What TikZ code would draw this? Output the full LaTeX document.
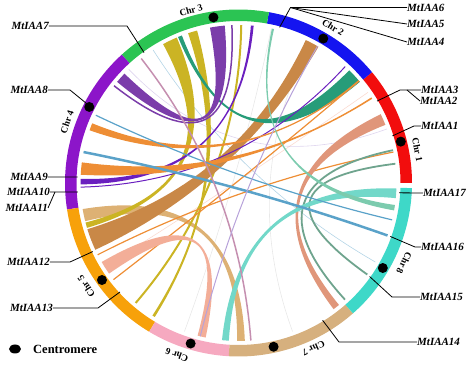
\documentclass[tikz,border=0pt]{standalone}
\usepackage{fontspec}
\setmainfont{Liberation Serif}
\usetikzlibrary{positioning}

\definecolor{chrA}{HTML}{F20D0D}
\definecolor{chrB}{HTML}{1414F0}
\definecolor{chrC}{HTML}{2BC453}
\definecolor{chrD}{HTML}{8C15C9}
\definecolor{chrE}{HTML}{F7A10A}
\definecolor{chrF}{HTML}{F6A9C0}
\definecolor{chrG}{HTML}{D6B07E}
\definecolor{chrH}{HTML}{3ED8C8}
\definecolor{lkPurple}{HTML}{7B3DAA}
\definecolor{lkViolet}{HTML}{6A1FBF}
\definecolor{lkYellow}{HTML}{CBB424}
\definecolor{lkTeal}{HTML}{279C79}
\definecolor{lkBrown}{HTML}{C98847}
\definecolor{lkOrange}{HTML}{EE8E35}
\definecolor{lkSalmon}{HTML}{E0967A}
\definecolor{lkBlue}{HTML}{5AA2C9}
\definecolor{lkTurq}{HTML}{72D8C9}
\definecolor{lkMint}{HTML}{7CCBAE}
\definecolor{lkTan}{HTML}{DDB174}
\definecolor{lkPink}{HTML}{F3AE98}
\definecolor{lkGreen}{HTML}{6FA48E}
\definecolor{lkMauve}{HTML}{C58FB0}
\definecolor{lkLav}{HTML}{B7A2DA}

% link ends sit at radius 158, bezier pull towards the centre
\newcommand\rl{158}
\newcommand\rc{52.7}
% ribbon: colour, first arc a1..a2, second arc b1..b2
\newcommand\ribbon[5]{\fill[#1] (#2:\rl) arc[start angle=#2,end angle=#3,radius=\rl]
  .. controls (#3:\rc) and (#4:\rc) .. (#4:\rl) arc[start angle=#4,end angle=#5,radius=\rl]
  .. controls (#5:\rc) and (#2:\rc) .. (#2:\rl) -- cycle;}
% thin link between two angles
\newcommand\link[3]{\draw[#1] (#2:\rl) .. controls (#2:\rc) and (#3:\rc) .. (#3:\rl);}

\begin{document}
\begin{tikzpicture}[x=1pt,y=1pt,
    gene/.style={font=\fontsize{11}{13}\selectfont\bfseries\itshape, inner sep=0pt},
    chrlab/.style={font=\fontsize{9.5}{11}\selectfont\bfseries, inner sep=0pt},
    lead/.style={black, line width=0.8pt},
    faint/.style={line width=0.6pt, opacity=0.45}]
  \useasboundingbox (-238.5,-191) rectangle (235.5,183);

  % faint links
  \link{faint, lkBlue}{122.7}{-30}
  \link{faint, lkLav}{134}{20}
  \link{faint, gray!40}{78}{250}
  \link{faint, gray!40}{63}{-70}
  \link{faint, lkPink}{212}{35}

  % links
  \ribbon{lkTan}{189.5}{194}{269.5}{272.3}
  \ribbon{lkYellow}{113}{118.5}{194.5}{196.5}
  \ribbon{lkYellow}{105.2}{108.6}{237}{238}
  \link{lkYellow, line width=2pt}{89}{229.4}
  \ribbon{lkBrown}{59.6}{64.8}{197}{205}
  \ribbon{lkTeal}{39.8}{45.5}{111}{112.5}
  \ribbon{lkPurple}{95}{100.4}{136.2}{140.2}
  \link{lkPurple, line width=1.5pt}{92.4}{142}
  \ribbon{lkViolet}{84.5}{85.5}{178.5}{180.5}
  \link{lkViolet, line width=1pt}{47.5}{181.5}
  \ribbon{lkOrange}{40}{40.6}{157.8}{160.5}
  \ribbon{lkOrange}{32.2}{32.8}{172.5}{177}
  \link{lkOrange, line width=1.2pt}{40.3}{217.7}
  \link{lkOrange, line width=1.2pt}{11.3}{207}
  \ribbon{lkSalmon}{-53}{-50.5}{21.6}{25.8}
  \link{lkGreen, line width=1.8pt}{12}{-47.6}
  \link{lkGreen, line width=1.8pt}{7}{-35.4}
  \ribbon{lkTurq}{264}{266.5}{354.5}{358}
  \ribbon{lkMint}{-10}{-8}{77}{77.8}
  \link{lkBlue, line width=1.2pt}{154.6}{-13.5}
  \link{lkBlue, line width=2.5pt}{168.7}{-19.4}
  \ribbon{lkPink}{210}{215}{255}{258}
  \link{lkMauve, line width=1.5pt}{-85.5}{128}
  \link{lkLav, line width=1pt}{-104}{60}

  % chromosome ring
  \foreach \a/\b/\c in {0/39.7/chrA, 39.7/79.9/chrB, 79.9/132.3/chrC, 132.3/188.8/chrD,
      188.8/239/chrE, 239/266.8/chrF, 266.8/311.3/chrG, 311.3/358.3/chrH}
    \fill[\c] (\a:162) arc[start angle=\a,end angle=\b,radius=162]
      -- (\b:173.5) arc[start angle=\b,end angle=\a,radius=173.5] -- cycle;

  % centromeres
  \foreach \a in {14.3, 59.6, 98.6, 153, 215.4, 253.4, 282.1, 329.5}
    \fill[black] (\a:167.5) circle (5);

  % chromosome names
  \foreach \a/\n/\r in {10.5/1/182, 58.7/2/182, 105.4/3/179, 160.4/4/182,
      214.1/5/184, 250.3/6/183, 294.4/7/182, 334.2/8/184}
    \node[chrlab, rotate=\a-90] (chr\n) at (\a:\r) {Chr \n};

  % gene labels, left side
  \node[gene, anchor=east] (t7) at (-189.5,157) {MtIAA7};
  \node[gene, anchor=east] (t8) at (-190.5,93) {MtIAA8};
  \node[gene, anchor=east] (t9) at (-190.5,6) {MtIAA9};
  \node[gene, anchor=east] (t10) at (-188.5,-9) {MtIAA10};
  \node[gene, anchor=east] (t11) at (-190.5,-25) {MtIAA11};
  \node[gene, anchor=east] (t12) at (-188.5,-79) {MtIAA12};
  \node[gene, anchor=east] (t13) at (-185.5,-125) {MtIAA13};
  % gene labels, right side
  \node[gene, anchor=west] (t1) at (182.5,57) {MtIAA1};
  \node[gene, anchor=west] (t2) at (181.5,82) {MtIAA2};
  \node[gene, anchor=west] (t3) at (182.5,93) {MtIAA3};
  \node[gene, anchor=west] (t4) at (168.5,141) {MtIAA4};
  \node[gene, anchor=west] (t5) at (168.5,159) {MtIAA5};
  \node[gene, anchor=west] (t6) at (168.5,175.5) {MtIAA6};
  \node[gene, anchor=west] (t14) at (178.5,-159) {MtIAA14};
  \node[gene, anchor=west] (t15) at (181.5,-114) {MtIAA15};
  \node[gene, anchor=west] (t16) at (182.5,-64) {MtIAA16};
  \node[gene, anchor=west] (t17) at (184.5,-10) {MtIAA17};

  % gene positions on the ring
  \coordinate (g1) at (17:161);
  \coordinate (g3) at (30.6:161);
  \coordinate (g4) at (75.2:161);
  \coordinate (g7) at (125.9:161);
  \coordinate (g8) at (153:163);
  \coordinate (g9) at (177.9:161);
  \coordinate (g10) at (183.2:161);
  \coordinate (g12) at (205.2:161);
  \coordinate (g13) at (222.6:161);
  \coordinate (g14) at (-58.5:161);
  \coordinate (g15) at (-35.5:161);
  \coordinate (g16) at (-19.4:161);
  \coordinate (g17) at (-3.5:161);
  % bends of the leader lines
  \coordinate (e7) at (-111.5,157);
  \coordinate (e8) at (-168.5,93);
  \coordinate (e11) at (-183.5,-9);
  \coordinate (e12) at (-168.5,-79);
  \coordinate (e13) at (-140.5,-125);
  \coordinate (e1) at (175.5,57);
  \coordinate (e3) at (161.5,93);
  \coordinate (e2) at (168.5,93);
  \coordinate (hub) at (52,175.5);
  \coordinate (e14) at (100.5,-159);
  \coordinate (e15) at (153.5,-114);
  \coordinate (e16) at (176.5,-64);

  \draw[lead] (t7.east) -- (e7) -- (g7);
  \draw[lead] (t8.east) -- (e8) -- (g8);
  \draw[lead] (t9.east) -- (g9);
  \draw[lead] (t10.east) -- (g10);
  \draw[lead] (t11.east) -- (e11);
  \draw[lead] (t12.east) -- (e12) -- (g12);
  \draw[lead] (t13.east) -- (e13) -- (g13);
  \draw[lead] (t1.west) -- (e1) -- (g1);
  \draw[lead] (t3.west) -- (e3) -- (g3);
  \draw[lead] (t2.west) -- (e2);
  \draw[lead] (g4) -- (hub) -- (t6.west);
  \draw[lead] (hub) -- (t5.west);
  \draw[lead] (hub) -- (t4.west);
  \draw[lead] (t14.west) -- (e14) -- (g14);
  \draw[lead] (t15.west) -- (e15) -- (g15);
  \draw[lead] (t16.west) -- (e16) -- (g16);
  \draw[lead] (t17.west) -- (g17);

  % legend
  \fill[black] (-223.5,-166) ellipse (6 and 4.5);
  \node[font=\fontsize{12.5}{14}\selectfont\bfseries, inner sep=0pt, anchor=west]
    (legend) at (-205.5,-166) {Centromere};
\end{tikzpicture}
\end{document}
